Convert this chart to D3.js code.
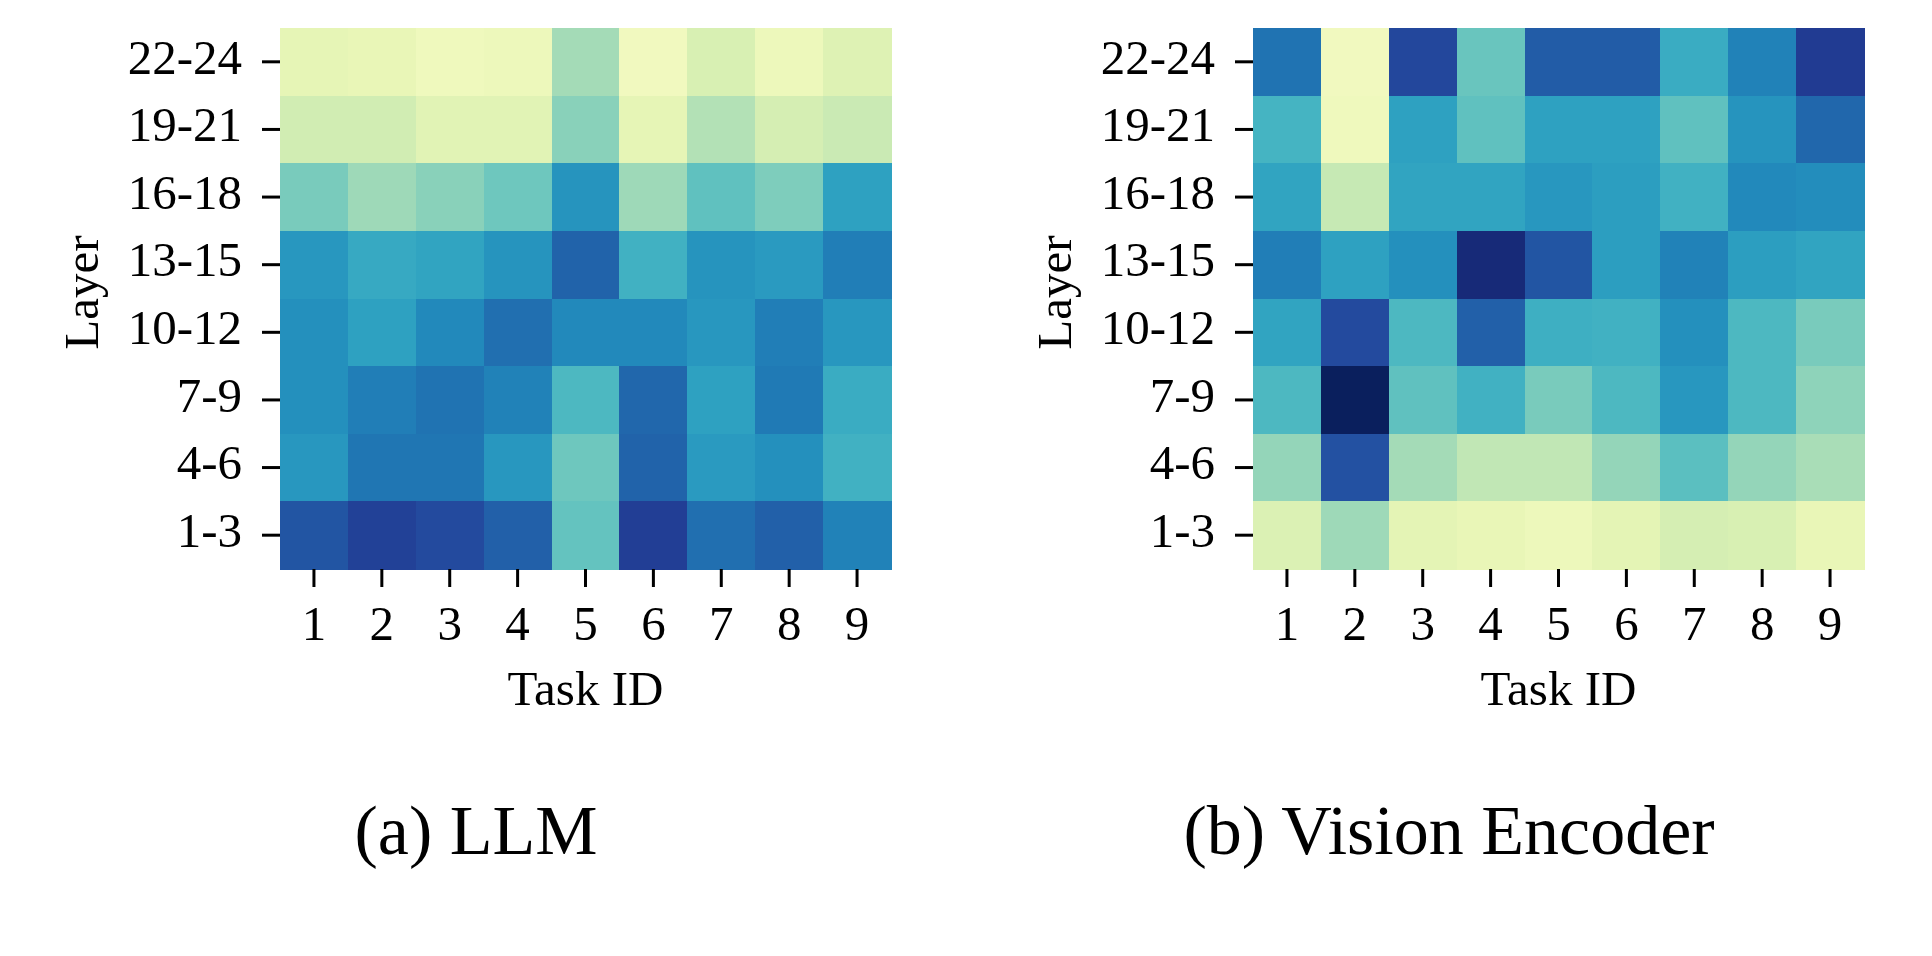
<!DOCTYPE html>
<html>
<head>
<meta charset="utf-8">
<script src="https://cdn.jsdelivr.net/npm/d3@7"></script>
<style>
  html, body { margin: 0; padding: 0; background: #fff; }
  svg { display: block; }
</style>
</head>
<body>
<svg id="chart" width="1932" height="956"></svg>
<script>
// ---- data ----
const taskIds = ["1", "2", "3", "4", "5", "6", "7", "8", "9"];
const layers = ["22-24", "19-21", "16-18", "13-15", "10-12", "7-9", "4-6", "1-3"];

// LLM panel (rows follow `layers`, columns follow `taskIds`)
const llmValues = [
  [0.14, 0.13, 0.10, 0.11, 0.31, 0.09, 0.19, 0.11, 0.17],
  [0.21, 0.21, 0.16, 0.16, 0.36, 0.14, 0.28, 0.20, 0.23],
  [0.39, 0.32, 0.36, 0.41, 0.61, 0.32, 0.44, 0.38, 0.57],
  [0.60, 0.54, 0.56, 0.61, 0.74, 0.51, 0.61, 0.59, 0.67],
  [0.62, 0.57, 0.64, 0.71, 0.64, 0.64, 0.60, 0.67, 0.60],
  [0.62, 0.67, 0.70, 0.66, 0.48, 0.73, 0.57, 0.68, 0.53],
  [0.60, 0.69, 0.69, 0.60, 0.41, 0.74, 0.59, 0.62, 0.51],
  [0.78, 0.84, 0.81, 0.75, 0.43, 0.85, 0.71, 0.75, 0.66]
];

// Vision Encoder panel
const visionValues = [
  [0.70, 0.09, 0.82, 0.42, 0.76, 0.76, 0.53, 0.66, 0.86],
  [0.50, 0.10, 0.57, 0.44, 0.57, 0.57, 0.44, 0.61, 0.73],
  [0.56, 0.24, 0.56, 0.56, 0.60, 0.58, 0.51, 0.64, 0.63],
  [0.67, 0.57, 0.62, 0.93, 0.78, 0.58, 0.66, 0.58, 0.56],
  [0.56, 0.81, 0.48, 0.75, 0.52, 0.51, 0.62, 0.48, 0.39],
  [0.48, 0.99, 0.44, 0.51, 0.39, 0.48, 0.60, 0.48, 0.35],
  [0.34, 0.79, 0.31, 0.25, 0.25, 0.34, 0.45, 0.34, 0.30],
  [0.18, 0.32, 0.15, 0.13, 0.11, 0.15, 0.20, 0.19, 0.13]
];

const panelTitles = ["(a) LLM", "(b) Vision Encoder"];
const xAxisTitle = "Task ID";
const yAxisTitle = "Layer";

// ---- layout ----
const svg = d3.select("#chart");
const FONT = "'Liberation Serif', 'Times New Roman', serif";
const panels = [
  { values: llmValues, left: 280, title: panelTitles[0], titleX: 476 },
  { values: visionValues, left: 1253, title: panelTitles[1], titleX: 1449 }
];
const mapTop = 28, mapW = 611, mapH = 541;
const color = d3.scaleSequential(d3.interpolateYlGnBu).domain([0, 1]);

panels.forEach(p => {
  const g = svg.append("g").attr("transform", `translate(${p.left},${mapTop})`);
  const x = d3.scaleBand().domain(taskIds).range([0, mapW]).padding(0);
  const y = d3.scaleBand().domain(layers).range([0, mapH]).padding(0);

  const cells = [];
  p.values.forEach((row, i) => row.forEach((v, j) => cells.push({ layer: layers[i], task: taskIds[j], v })));

  g.selectAll("rect.cell").data(cells).join("rect")
    .attr("class", "cell")
    .attr("x", d => x(d.task))
    .attr("y", d => y(d.layer))
    .attr("width", x.bandwidth() + 0.5)
    .attr("height", y.bandwidth() + 0.5)
    .attr("fill", d => color(d.v))
    .attr("shape-rendering", "crispEdges");

  // x axis
  const xa = g.append("g").attr("transform", `translate(0,${mapH})`)
    .call(d3.axisBottom(x).tickSize(18).tickPadding(18));
  xa.select(".domain").remove();
  xa.selectAll(".tick line").attr("stroke", "#000").attr("stroke-width", 3);
  xa.selectAll(".tick text").attr("font-family", FONT).attr("font-size", 49).attr("fill", "#000");

  // y axis
  const ya = g.append("g").call(d3.axisLeft(y).tickSize(18).tickPadding(20));
  ya.select(".domain").remove();
  ya.selectAll(".tick line").attr("stroke", "#000").attr("stroke-width", 3);
  ya.selectAll(".tick text").attr("font-family", FONT).attr("font-size", 49).attr("fill", "#000")
    .attr("dy", "0.24em");

  // axis titles
  g.append("text")
    .attr("x", mapW / 2).attr("y", 677)
    .attr("text-anchor", "middle")
    .attr("font-family", FONT).attr("font-size", 49).attr("fill", "#000")
    .text(xAxisTitle);

  g.append("text")
    .attr("transform", `translate(-182,${mapH / 2 - 6}) rotate(-90)`)
    .attr("text-anchor", "middle")
    .attr("font-family", FONT).attr("font-size", 49).attr("fill", "#000")
    .text(yAxisTitle);

  // panel caption
  svg.append("text")
    .attr("x", p.titleX).attr("y", 854)
    .attr("text-anchor", "middle")
    .attr("font-family", FONT).attr("font-size", 70).attr("fill", "#000")
    .text(p.title);
});
</script>
</body>
</html>
